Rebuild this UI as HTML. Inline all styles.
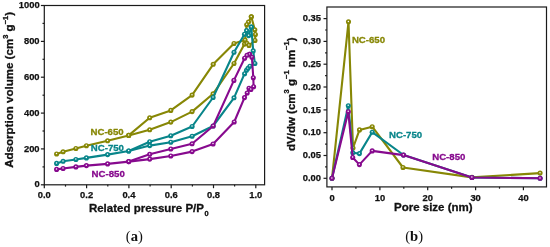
<!DOCTYPE html>
<html><head><meta charset="utf-8"><title>Figure</title>
<style>
html,body{margin:0;padding:0;background:#fff;}
body{width:550px;height:247px;overflow:hidden;}
svg{display:block;filter:blur(0.35px);}
text{font-family:"Liberation Sans",sans-serif;font-weight:bold;fill:#111;}
.tk{font-size:9.4px;stroke:#111;stroke-width:0.25px;}
.ttl{font-size:11.5px;stroke:#111;stroke-width:0.3px;}
.lb{font-size:9.65px;stroke-width:0.3px;}
.cap{font-family:"Liberation Serif",serif;font-weight:normal;font-size:14.6px;fill:#111;}
</style></head><body>
<svg width="550" height="247" viewBox="0 0 550 247">
<rect x="0" y="0" width="550" height="247" fill="#fff"/>
<g stroke="#1a1a1a" stroke-width="1.2" fill="none">
<rect x="44.3" y="5.5" width="220.3" height="179.3"/>
<line x1="40.9" y1="184.8" x2="44.3" y2="184.8"/>
<line x1="42.5" y1="166.9" x2="44.3" y2="166.9"/>
<line x1="40.9" y1="148.9" x2="44.3" y2="148.9"/>
<line x1="42.5" y1="131.0" x2="44.3" y2="131.0"/>
<line x1="40.9" y1="113.1" x2="44.3" y2="113.1"/>
<line x1="42.5" y1="95.2" x2="44.3" y2="95.2"/>
<line x1="40.9" y1="77.2" x2="44.3" y2="77.2"/>
<line x1="42.5" y1="59.3" x2="44.3" y2="59.3"/>
<line x1="40.9" y1="41.4" x2="44.3" y2="41.4"/>
<line x1="42.5" y1="23.4" x2="44.3" y2="23.4"/>
<line x1="40.9" y1="5.5" x2="44.3" y2="5.5"/>
<line x1="44.3" y1="184.8" x2="44.3" y2="188.2"/>
<line x1="65.5" y1="184.8" x2="65.5" y2="186.6"/>
<line x1="86.6" y1="184.8" x2="86.6" y2="188.2"/>
<line x1="107.8" y1="184.8" x2="107.8" y2="186.6"/>
<line x1="128.9" y1="184.8" x2="128.9" y2="188.2"/>
<line x1="150.1" y1="184.8" x2="150.1" y2="186.6"/>
<line x1="171.2" y1="184.8" x2="171.2" y2="188.2"/>
<line x1="192.4" y1="184.8" x2="192.4" y2="186.6"/>
<line x1="213.5" y1="184.8" x2="213.5" y2="188.2"/>
<line x1="234.6" y1="184.8" x2="234.6" y2="186.6"/>
<line x1="255.8" y1="184.8" x2="255.8" y2="188.2"/>
</g>
<text class="tk" x="39.6" y="187.4" text-anchor="end">0</text>
<text class="tk" x="39.6" y="151.5" text-anchor="end">200</text>
<text class="tk" x="39.6" y="115.7" text-anchor="end">400</text>
<text class="tk" x="39.6" y="79.8" text-anchor="end">600</text>
<text class="tk" x="39.6" y="44.0" text-anchor="end">800</text>
<text class="tk" x="39.6" y="8.1" text-anchor="end">1000</text>
<text class="tk" x="44.3" y="197.8" text-anchor="middle">0.0</text>
<text class="tk" x="86.6" y="197.8" text-anchor="middle">0.2</text>
<text class="tk" x="128.9" y="197.8" text-anchor="middle">0.4</text>
<text class="tk" x="171.2" y="197.8" text-anchor="middle">0.6</text>
<text class="tk" x="213.5" y="197.8" text-anchor="middle">0.8</text>
<text class="tk" x="255.8" y="197.8" text-anchor="middle">1.0</text>
<text class="ttl" x="88.9" y="211.7">Related pressure P/P<tspan font-size="7.4" dx="0.5" dy="3.8">0</tspan></text>
<text class="ttl" style="font-size:11.55px" transform="translate(13.3,167.8) rotate(-90)">Adsorption volume (cm<tspan font-size="7.6" dy="-5.4">3</tspan><tspan dy="5.4"> g</tspan><tspan font-size="7.6" dy="-5.4">−1</tspan><tspan dy="5.4">)</tspan></text>
<polyline fill="none" stroke="#878705" stroke-width="2.1" stroke-linejoin="round" points="56.6,154.0 63.1,151.8 75.9,148.5 86.4,145.7 107.6,140.8 128.7,135.4 149.7,129.8 170.8,122.1 192.1,111.6 213.1,93.8 234.0,63.5 244.5,44.1 246.9,43.3 249.0,45.4 255.0,40.5 255.4,34.5 254.8,29.8 251.3,16.8"/>
<circle cx="56.6" cy="154.0" r="2.55" fill="#878705"/><circle cx="56.50" cy="153.60" r="0.75" fill="#fff"/>
<circle cx="63.1" cy="151.8" r="2.55" fill="#878705"/><circle cx="63.00" cy="151.40" r="0.75" fill="#fff"/>
<circle cx="75.9" cy="148.5" r="2.55" fill="#878705"/><circle cx="75.80" cy="148.10" r="0.75" fill="#fff"/>
<circle cx="86.4" cy="145.7" r="2.55" fill="#878705"/><circle cx="86.30" cy="145.30" r="0.75" fill="#fff"/>
<circle cx="107.6" cy="140.8" r="2.55" fill="#878705"/><circle cx="107.50" cy="140.40" r="0.75" fill="#fff"/>
<circle cx="128.7" cy="135.4" r="2.55" fill="#878705"/><circle cx="128.60" cy="135.00" r="0.75" fill="#fff"/>
<circle cx="149.7" cy="129.8" r="2.55" fill="#878705"/><circle cx="149.60" cy="129.40" r="0.75" fill="#fff"/>
<circle cx="170.8" cy="122.1" r="2.55" fill="#878705"/><circle cx="170.70" cy="121.70" r="0.75" fill="#fff"/>
<circle cx="192.1" cy="111.6" r="2.55" fill="#878705"/><circle cx="192.00" cy="111.20" r="0.75" fill="#fff"/>
<circle cx="213.1" cy="93.8" r="2.55" fill="#878705"/><circle cx="213.00" cy="93.40" r="0.75" fill="#fff"/>
<circle cx="234.0" cy="63.5" r="2.55" fill="#878705"/><circle cx="233.90" cy="63.10" r="0.75" fill="#fff"/>
<circle cx="244.5" cy="44.1" r="2.55" fill="#878705"/><circle cx="244.40" cy="43.70" r="0.75" fill="#fff"/>
<circle cx="246.9" cy="43.3" r="2.55" fill="#878705"/><circle cx="246.80" cy="42.90" r="0.75" fill="#fff"/>
<circle cx="249.0" cy="45.4" r="2.55" fill="#878705"/><circle cx="248.90" cy="45.00" r="0.75" fill="#fff"/>
<circle cx="255.0" cy="40.5" r="2.55" fill="#878705"/><circle cx="254.90" cy="40.10" r="0.75" fill="#fff"/>
<circle cx="255.4" cy="34.5" r="2.55" fill="#878705"/><circle cx="255.30" cy="34.10" r="0.75" fill="#fff"/>
<circle cx="254.8" cy="29.8" r="2.55" fill="#878705"/><circle cx="254.70" cy="29.40" r="0.75" fill="#fff"/>
<circle cx="251.3" cy="16.8" r="2.55" fill="#878705"/><circle cx="251.20" cy="16.40" r="0.75" fill="#fff"/>
<polyline fill="none" stroke="#878705" stroke-width="2.1" stroke-linejoin="round" points="251.3,16.8 248.5,22.1 246.7,24.7 245.1,40.1 234.0,43.5 213.2,64.3 192.1,95.1 170.8,110.4 149.7,117.8 128.7,135.4"/>
<circle cx="251.3" cy="16.8" r="2.55" fill="#878705"/><circle cx="251.20" cy="16.40" r="0.75" fill="#fff"/>
<circle cx="248.5" cy="22.1" r="2.55" fill="#878705"/><circle cx="248.40" cy="21.70" r="0.75" fill="#fff"/>
<circle cx="246.7" cy="24.7" r="2.55" fill="#878705"/><circle cx="246.60" cy="24.30" r="0.75" fill="#fff"/>
<circle cx="245.1" cy="40.1" r="2.55" fill="#878705"/><circle cx="245.00" cy="39.70" r="0.75" fill="#fff"/>
<circle cx="234.0" cy="43.5" r="2.55" fill="#878705"/><circle cx="233.90" cy="43.10" r="0.75" fill="#fff"/>
<circle cx="213.2" cy="64.3" r="2.55" fill="#878705"/><circle cx="213.10" cy="63.90" r="0.75" fill="#fff"/>
<circle cx="192.1" cy="95.1" r="2.55" fill="#878705"/><circle cx="192.00" cy="94.70" r="0.75" fill="#fff"/>
<circle cx="170.8" cy="110.4" r="2.55" fill="#878705"/><circle cx="170.70" cy="110.00" r="0.75" fill="#fff"/>
<circle cx="149.7" cy="117.8" r="2.55" fill="#878705"/><circle cx="149.60" cy="117.40" r="0.75" fill="#fff"/>
<circle cx="128.7" cy="135.4" r="2.55" fill="#878705"/><circle cx="128.60" cy="135.00" r="0.75" fill="#fff"/>
<polyline fill="none" stroke="#08858a" stroke-width="2.1" stroke-linejoin="round" points="56.6,163.4 63.1,161.3 75.9,159.5 86.4,157.9 107.6,154.6 128.7,151.0 149.7,145.6 170.8,142.2 192.1,136.2 213.1,126.0 234.0,97.8 244.6,73.7 246.5,70.3 248.0,68.3 249.9,66.2 254.9,63.5 253.2,50.9 251.3,27.1"/>
<circle cx="56.6" cy="163.4" r="2.55" fill="#08858a"/><circle cx="56.50" cy="163.00" r="0.75" fill="#fff"/>
<circle cx="63.1" cy="161.3" r="2.55" fill="#08858a"/><circle cx="63.00" cy="160.90" r="0.75" fill="#fff"/>
<circle cx="75.9" cy="159.5" r="2.55" fill="#08858a"/><circle cx="75.80" cy="159.10" r="0.75" fill="#fff"/>
<circle cx="86.4" cy="157.9" r="2.55" fill="#08858a"/><circle cx="86.30" cy="157.50" r="0.75" fill="#fff"/>
<circle cx="107.6" cy="154.6" r="2.55" fill="#08858a"/><circle cx="107.50" cy="154.20" r="0.75" fill="#fff"/>
<circle cx="128.7" cy="151.0" r="2.55" fill="#08858a"/><circle cx="128.60" cy="150.60" r="0.75" fill="#fff"/>
<circle cx="149.7" cy="145.6" r="2.55" fill="#08858a"/><circle cx="149.60" cy="145.20" r="0.75" fill="#fff"/>
<circle cx="170.8" cy="142.2" r="2.55" fill="#08858a"/><circle cx="170.70" cy="141.80" r="0.75" fill="#fff"/>
<circle cx="192.1" cy="136.2" r="2.55" fill="#08858a"/><circle cx="192.00" cy="135.80" r="0.75" fill="#fff"/>
<circle cx="213.1" cy="126.0" r="2.55" fill="#08858a"/><circle cx="213.00" cy="125.60" r="0.75" fill="#fff"/>
<circle cx="234.0" cy="97.8" r="2.55" fill="#08858a"/><circle cx="233.90" cy="97.40" r="0.75" fill="#fff"/>
<circle cx="244.6" cy="73.7" r="2.55" fill="#08858a"/><circle cx="244.50" cy="73.30" r="0.75" fill="#fff"/>
<circle cx="246.5" cy="70.3" r="2.55" fill="#08858a"/><circle cx="246.40" cy="69.90" r="0.75" fill="#fff"/>
<circle cx="248.0" cy="68.3" r="2.55" fill="#08858a"/><circle cx="247.90" cy="67.90" r="0.75" fill="#fff"/>
<circle cx="249.9" cy="66.2" r="2.55" fill="#08858a"/><circle cx="249.80" cy="65.80" r="0.75" fill="#fff"/>
<circle cx="254.9" cy="63.5" r="2.55" fill="#08858a"/><circle cx="254.80" cy="63.10" r="0.75" fill="#fff"/>
<circle cx="253.2" cy="50.9" r="2.55" fill="#08858a"/><circle cx="253.10" cy="50.50" r="0.75" fill="#fff"/>
<circle cx="251.3" cy="27.1" r="2.55" fill="#08858a"/><circle cx="251.20" cy="26.70" r="0.75" fill="#fff"/>
<polyline fill="none" stroke="#08858a" stroke-width="2.1" stroke-linejoin="round" points="251.3,27.1 248.7,35.6 246.6,30.6 244.5,34.2 234.0,52.3 213.1,97.5 192.1,126.5 170.8,135.7 149.7,141.7 128.7,151.0"/>
<circle cx="251.3" cy="27.1" r="2.55" fill="#08858a"/><circle cx="251.20" cy="26.70" r="0.75" fill="#fff"/>
<circle cx="248.7" cy="35.6" r="2.55" fill="#08858a"/><circle cx="248.60" cy="35.20" r="0.75" fill="#fff"/>
<circle cx="246.6" cy="30.6" r="2.55" fill="#08858a"/><circle cx="246.50" cy="30.20" r="0.75" fill="#fff"/>
<circle cx="244.5" cy="34.2" r="2.55" fill="#08858a"/><circle cx="244.40" cy="33.80" r="0.75" fill="#fff"/>
<circle cx="234.0" cy="52.3" r="2.55" fill="#08858a"/><circle cx="233.90" cy="51.90" r="0.75" fill="#fff"/>
<circle cx="213.1" cy="97.5" r="2.55" fill="#08858a"/><circle cx="213.00" cy="97.10" r="0.75" fill="#fff"/>
<circle cx="192.1" cy="126.5" r="2.55" fill="#08858a"/><circle cx="192.00" cy="126.10" r="0.75" fill="#fff"/>
<circle cx="170.8" cy="135.7" r="2.55" fill="#08858a"/><circle cx="170.70" cy="135.30" r="0.75" fill="#fff"/>
<circle cx="149.7" cy="141.7" r="2.55" fill="#08858a"/><circle cx="149.60" cy="141.30" r="0.75" fill="#fff"/>
<circle cx="128.7" cy="151.0" r="2.55" fill="#08858a"/><circle cx="128.60" cy="150.60" r="0.75" fill="#fff"/>
<polyline fill="none" stroke="#870a8e" stroke-width="2.1" stroke-linejoin="round" points="56.6,169.4 63.1,168.5 75.9,166.9 86.4,165.6 107.6,163.9 128.7,161.6 149.7,159.1 170.8,156.0 192.1,151.6 213.1,144.0 234.2,122.0 244.5,97.6 247.2,93.0 249.0,88.2 250.9,89.5 253.6,86.7 253.3,77.7 251.9,57.2 249.5,54.3"/>
<circle cx="56.6" cy="169.4" r="2.55" fill="#870a8e"/><circle cx="56.50" cy="169.00" r="0.75" fill="#fff"/>
<circle cx="63.1" cy="168.5" r="2.55" fill="#870a8e"/><circle cx="63.00" cy="168.10" r="0.75" fill="#fff"/>
<circle cx="75.9" cy="166.9" r="2.55" fill="#870a8e"/><circle cx="75.80" cy="166.50" r="0.75" fill="#fff"/>
<circle cx="86.4" cy="165.6" r="2.55" fill="#870a8e"/><circle cx="86.30" cy="165.20" r="0.75" fill="#fff"/>
<circle cx="107.6" cy="163.9" r="2.55" fill="#870a8e"/><circle cx="107.50" cy="163.50" r="0.75" fill="#fff"/>
<circle cx="128.7" cy="161.6" r="2.55" fill="#870a8e"/><circle cx="128.60" cy="161.20" r="0.75" fill="#fff"/>
<circle cx="149.7" cy="159.1" r="2.55" fill="#870a8e"/><circle cx="149.60" cy="158.70" r="0.75" fill="#fff"/>
<circle cx="170.8" cy="156.0" r="2.55" fill="#870a8e"/><circle cx="170.70" cy="155.60" r="0.75" fill="#fff"/>
<circle cx="192.1" cy="151.6" r="2.55" fill="#870a8e"/><circle cx="192.00" cy="151.20" r="0.75" fill="#fff"/>
<circle cx="213.1" cy="144.0" r="2.55" fill="#870a8e"/><circle cx="213.00" cy="143.60" r="0.75" fill="#fff"/>
<circle cx="234.2" cy="122.0" r="2.55" fill="#870a8e"/><circle cx="234.10" cy="121.60" r="0.75" fill="#fff"/>
<circle cx="244.5" cy="97.6" r="2.55" fill="#870a8e"/><circle cx="244.40" cy="97.20" r="0.75" fill="#fff"/>
<circle cx="247.2" cy="93.0" r="2.55" fill="#870a8e"/><circle cx="247.10" cy="92.60" r="0.75" fill="#fff"/>
<circle cx="249.0" cy="88.2" r="2.55" fill="#870a8e"/><circle cx="248.90" cy="87.80" r="0.75" fill="#fff"/>
<circle cx="250.9" cy="89.5" r="2.55" fill="#870a8e"/><circle cx="250.80" cy="89.10" r="0.75" fill="#fff"/>
<circle cx="253.6" cy="86.7" r="2.55" fill="#870a8e"/><circle cx="253.50" cy="86.30" r="0.75" fill="#fff"/>
<circle cx="253.3" cy="77.7" r="2.55" fill="#870a8e"/><circle cx="253.20" cy="77.30" r="0.75" fill="#fff"/>
<circle cx="251.9" cy="57.2" r="2.55" fill="#870a8e"/><circle cx="251.80" cy="56.80" r="0.75" fill="#fff"/>
<circle cx="249.5" cy="54.3" r="2.55" fill="#870a8e"/><circle cx="249.40" cy="53.90" r="0.75" fill="#fff"/>
<polyline fill="none" stroke="#870a8e" stroke-width="2.1" stroke-linejoin="round" points="249.5,54.3 247.0,55.3 244.6,58.2 233.9,80.4 213.2,126.0 192.1,143.8 170.8,149.0 149.7,154.3 128.7,161.6"/>
<circle cx="249.5" cy="54.3" r="2.55" fill="#870a8e"/><circle cx="249.40" cy="53.90" r="0.75" fill="#fff"/>
<circle cx="247.0" cy="55.3" r="2.55" fill="#870a8e"/><circle cx="246.90" cy="54.90" r="0.75" fill="#fff"/>
<circle cx="244.6" cy="58.2" r="2.55" fill="#870a8e"/><circle cx="244.50" cy="57.80" r="0.75" fill="#fff"/>
<circle cx="233.9" cy="80.4" r="2.55" fill="#870a8e"/><circle cx="233.80" cy="80.00" r="0.75" fill="#fff"/>
<circle cx="213.2" cy="126.0" r="2.55" fill="#870a8e"/><circle cx="213.10" cy="125.60" r="0.75" fill="#fff"/>
<circle cx="192.1" cy="143.8" r="2.55" fill="#870a8e"/><circle cx="192.00" cy="143.40" r="0.75" fill="#fff"/>
<circle cx="170.8" cy="149.0" r="2.55" fill="#870a8e"/><circle cx="170.70" cy="148.60" r="0.75" fill="#fff"/>
<circle cx="149.7" cy="154.3" r="2.55" fill="#870a8e"/><circle cx="149.60" cy="153.90" r="0.75" fill="#fff"/>
<circle cx="128.7" cy="161.6" r="2.55" fill="#870a8e"/><circle cx="128.60" cy="161.20" r="0.75" fill="#fff"/>
<text class="lb" x="90.5" y="135.0" style="fill:#878705;stroke:#878705">NC-650</text>
<text class="lb" x="90.8" y="151.3" style="fill:#08858a;stroke:#08858a">NC-750</text>
<text class="lb" x="91.6" y="176.5" style="fill:#870a8e;stroke:#870a8e">NC-850</text>
<text class="cap" x="125.8" y="240.6">(<tspan font-weight="bold">a</tspan>)</text>
<g stroke="#1a1a1a" stroke-width="1.2" fill="none">
<rect x="326.9" y="7.0" width="219.6" height="179.9"/>
<line x1="323.5" y1="178.3" x2="326.9" y2="178.3"/>
<line x1="325.1" y1="166.9" x2="326.9" y2="166.9"/>
<line x1="323.5" y1="155.5" x2="326.9" y2="155.5"/>
<line x1="325.1" y1="144.1" x2="326.9" y2="144.1"/>
<line x1="323.5" y1="132.7" x2="326.9" y2="132.7"/>
<line x1="325.1" y1="121.3" x2="326.9" y2="121.3"/>
<line x1="323.5" y1="109.9" x2="326.9" y2="109.9"/>
<line x1="325.1" y1="98.4" x2="326.9" y2="98.4"/>
<line x1="323.5" y1="87.0" x2="326.9" y2="87.0"/>
<line x1="325.1" y1="75.6" x2="326.9" y2="75.6"/>
<line x1="323.5" y1="64.2" x2="326.9" y2="64.2"/>
<line x1="325.1" y1="52.8" x2="326.9" y2="52.8"/>
<line x1="323.5" y1="41.4" x2="326.9" y2="41.4"/>
<line x1="325.1" y1="30.0" x2="326.9" y2="30.0"/>
<line x1="323.5" y1="18.6" x2="326.9" y2="18.6"/>
<line x1="332.0" y1="186.9" x2="332.0" y2="190.3"/>
<line x1="355.9" y1="186.9" x2="355.9" y2="188.7"/>
<line x1="379.9" y1="186.9" x2="379.9" y2="190.3"/>
<line x1="403.8" y1="186.9" x2="403.8" y2="188.7"/>
<line x1="427.7" y1="186.9" x2="427.7" y2="190.3"/>
<line x1="451.6" y1="186.9" x2="451.6" y2="188.7"/>
<line x1="475.6" y1="186.9" x2="475.6" y2="190.3"/>
<line x1="499.5" y1="186.9" x2="499.5" y2="188.7"/>
<line x1="523.4" y1="186.9" x2="523.4" y2="190.3"/>
</g>
<text class="tk" x="321.0" y="180.9" text-anchor="end">0.00</text>
<text class="tk" x="321.0" y="158.1" text-anchor="end">0.05</text>
<text class="tk" x="321.0" y="135.3" text-anchor="end">0.10</text>
<text class="tk" x="321.0" y="112.5" text-anchor="end">0.15</text>
<text class="tk" x="321.0" y="89.6" text-anchor="end">0.20</text>
<text class="tk" x="321.0" y="66.8" text-anchor="end">0.25</text>
<text class="tk" x="321.0" y="44.0" text-anchor="end">0.30</text>
<text class="tk" x="321.0" y="21.2" text-anchor="end">0.35</text>
<text class="tk" x="332.0" y="200.6" text-anchor="middle">0</text>
<text class="tk" x="379.9" y="200.6" text-anchor="middle">10</text>
<text class="tk" x="427.7" y="200.6" text-anchor="middle">20</text>
<text class="tk" x="475.6" y="200.6" text-anchor="middle">30</text>
<text class="tk" x="523.4" y="200.6" text-anchor="middle">40</text>
<text class="ttl" x="394.0" y="211.3">Pore size (nm)</text>
<text class="ttl" transform="translate(294.6,151.0) rotate(-90)">dV/dw (cm<tspan font-size="7.6" dy="-5.4">3</tspan><tspan dy="5.4"> g</tspan><tspan font-size="7.6" dy="-5.4">−1</tspan><tspan dy="5.4"> nm</tspan><tspan font-size="7.6" dy="-5.4">−1</tspan><tspan dy="5.4">)</tspan></text>
<polyline fill="none" stroke="#878705" stroke-width="2.1" stroke-linejoin="round" points="332.0,178.3 348.5,21.8 353.0,148.0 359.5,129.9 372.2,126.7 403.0,167.5 472.0,177.4 540.1,173.1"/>
<circle cx="332.0" cy="178.3" r="2.55" fill="#878705"/><circle cx="331.90" cy="177.90" r="0.75" fill="#fff"/>
<circle cx="348.5" cy="21.8" r="2.55" fill="#878705"/><circle cx="348.40" cy="21.40" r="0.75" fill="#fff"/>
<circle cx="353.0" cy="148.0" r="2.55" fill="#878705"/><circle cx="352.90" cy="147.60" r="0.75" fill="#fff"/>
<circle cx="359.5" cy="129.9" r="2.55" fill="#878705"/><circle cx="359.40" cy="129.50" r="0.75" fill="#fff"/>
<circle cx="372.2" cy="126.7" r="2.55" fill="#878705"/><circle cx="372.10" cy="126.30" r="0.75" fill="#fff"/>
<circle cx="403.0" cy="167.5" r="2.55" fill="#878705"/><circle cx="402.90" cy="167.10" r="0.75" fill="#fff"/>
<circle cx="472.0" cy="177.4" r="2.55" fill="#878705"/><circle cx="471.90" cy="177.00" r="0.75" fill="#fff"/>
<circle cx="540.1" cy="173.1" r="2.55" fill="#878705"/><circle cx="540.00" cy="172.70" r="0.75" fill="#fff"/>
<polyline fill="none" stroke="#08858a" stroke-width="2.1" stroke-linejoin="round" points="332.0,178.3 348.3,105.7 352.8,152.8 359.4,153.6 372.2,132.2 403.5,155.0 472.0,177.5 540.1,178.3"/>
<circle cx="332.0" cy="178.3" r="2.55" fill="#08858a"/><circle cx="331.90" cy="177.90" r="0.75" fill="#fff"/>
<circle cx="348.3" cy="105.7" r="2.55" fill="#08858a"/><circle cx="348.20" cy="105.30" r="0.75" fill="#fff"/>
<circle cx="352.8" cy="152.8" r="2.55" fill="#08858a"/><circle cx="352.70" cy="152.40" r="0.75" fill="#fff"/>
<circle cx="359.4" cy="153.6" r="2.55" fill="#08858a"/><circle cx="359.30" cy="153.20" r="0.75" fill="#fff"/>
<circle cx="372.2" cy="132.2" r="2.55" fill="#08858a"/><circle cx="372.10" cy="131.80" r="0.75" fill="#fff"/>
<circle cx="403.5" cy="155.0" r="2.55" fill="#08858a"/><circle cx="403.40" cy="154.60" r="0.75" fill="#fff"/>
<circle cx="472.0" cy="177.5" r="2.55" fill="#08858a"/><circle cx="471.90" cy="177.10" r="0.75" fill="#fff"/>
<circle cx="540.1" cy="178.3" r="2.55" fill="#08858a"/><circle cx="540.00" cy="177.90" r="0.75" fill="#fff"/>
<polyline fill="none" stroke="#870a8e" stroke-width="2.1" stroke-linejoin="round" points="332.0,178.3 348.3,111.7 352.7,157.5 359.4,164.6 372.2,150.9 403.5,155.1 472.0,177.5 540.1,178.3"/>
<circle cx="332.0" cy="178.3" r="2.55" fill="#870a8e"/><circle cx="331.90" cy="177.90" r="0.75" fill="#fff"/>
<circle cx="348.3" cy="111.7" r="2.55" fill="#870a8e"/><circle cx="348.20" cy="111.30" r="0.75" fill="#fff"/>
<circle cx="352.7" cy="157.5" r="2.55" fill="#870a8e"/><circle cx="352.60" cy="157.10" r="0.75" fill="#fff"/>
<circle cx="359.4" cy="164.6" r="2.55" fill="#870a8e"/><circle cx="359.30" cy="164.20" r="0.75" fill="#fff"/>
<circle cx="372.2" cy="150.9" r="2.55" fill="#870a8e"/><circle cx="372.10" cy="150.50" r="0.75" fill="#fff"/>
<circle cx="403.5" cy="155.1" r="2.55" fill="#870a8e"/><circle cx="403.40" cy="154.70" r="0.75" fill="#fff"/>
<circle cx="472.0" cy="177.5" r="2.55" fill="#870a8e"/><circle cx="471.90" cy="177.10" r="0.75" fill="#fff"/>
<circle cx="540.1" cy="178.3" r="2.55" fill="#870a8e"/><circle cx="540.00" cy="177.90" r="0.75" fill="#fff"/>
<text class="lb" x="351.9" y="43.3" style="fill:#878705;stroke:#878705">NC-650</text>
<text class="lb" x="389.0" y="137.9" style="fill:#08858a;stroke:#08858a">NC-750</text>
<text class="lb" x="432.2" y="159.6" style="fill:#870a8e;stroke:#870a8e">NC-850</text>
<text class="cap" x="405.2" y="240.6">(<tspan font-weight="bold">b</tspan>)</text>
</svg>
</body></html>
